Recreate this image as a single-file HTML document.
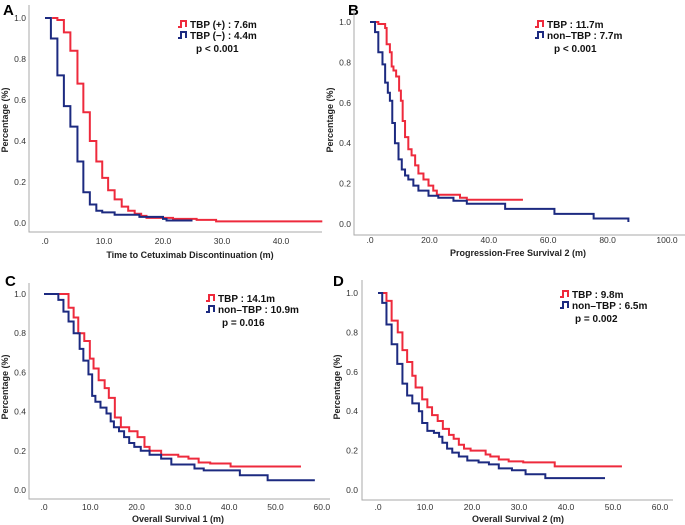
<!DOCTYPE html>
<html><head><meta charset="utf-8"><style>
body{margin:0;background:#fff;}
svg{display:block;font-family:"Liberation Sans",sans-serif;}
</style></head><body>
<svg id="fig" width="685" height="525" viewBox="0 0 685 525"></svg>
<script>
// Panel A data
const aRedTimes=[2.1,3.2,4.3,5.5,6.5,7.6,8.7,9.7,10.7,11.8,13,14.1,15.2,16.3,17.2,21.7,25.7,29];
const aRedSurv=[0.99,0.93,0.84,0.68,0.54,0.40,0.30,0.22,0.16,0.115,0.08,0.06,0.045,0.035,0.025,0.02,0.015,0.008];
const aRedStart=1.2, aRedEnd=47;
const aBlueTimes=[1.0,2.1,3.2,4.3,5.5,6.5,7.6,8.7,9.7,11.8,16,20,20.6];
const aBlueSurv=[0.90,0.72,0.57,0.47,0.30,0.15,0.09,0.06,0.052,0.04,0.03,0.02,0.012];
const aBlueStart=0, aBlueEnd=25;
// Panel B data
const bRedTimes=[2.8,5.1,5.6,6.7,7.3,7.9,8.8,9.8,10.4,11,11.8,12.9,14,15.2,16.3,18,19.7,21.3,22.5,30.3,32.6];
const bRedSurv=[0.99,0.97,0.89,0.85,0.78,0.76,0.73,0.66,0.61,0.51,0.43,0.37,0.34,0.29,0.25,0.22,0.19,0.165,0.145,0.13,0.12];
const bRedStart=0, bRedEnd=51.5;
const bBlueTimes=[1.7,2.8,4.2,5.1,6,6.7,7.5,8.4,9.6,10.7,11.8,12.9,14.6,16.3,19.7,23,28.1,32.6,45.5,62.1,75.3,87];
const bBlueSurv=[0.95,0.85,0.79,0.70,0.65,0.61,0.50,0.40,0.32,0.27,0.24,0.22,0.19,0.165,0.14,0.13,0.115,0.10,0.075,0.05,0.027,0.01];
const bBlueStart=0, bBlueEnd=87;
// Panel C data
const cRedTimes=[5.3,6.4,7.4,8.7,9.9,10.7,11.8,13.1,14,15.3,16.6,18.4,20.2,21.7,22.8,25.3,29,31.2,33.4,35.9,40.3];
const cRedSurv=[0.93,0.88,0.80,0.76,0.67,0.62,0.56,0.52,0.47,0.37,0.32,0.30,0.27,0.22,0.20,0.18,0.17,0.16,0.14,0.135,0.12];
const cRedStart=0, cRedEnd=55.5;
const cBlueTimes=[3.1,4.2,5.3,6.4,7.7,8.5,9.6,10.4,11.1,12.2,13.5,14.4,15.1,16.2,17.3,18.4,19.5,20.9,22.8,25.3,27.5,32.5,34.5,42.3,48.3];
const cBlueSurv=[0.97,0.91,0.86,0.80,0.72,0.66,0.59,0.48,0.45,0.42,0.39,0.35,0.32,0.30,0.27,0.24,0.22,0.20,0.18,0.16,0.13,0.11,0.10,0.075,0.05];
const cBlueStart=0, cBlueEnd=58.5;
// Panel D data
const dRedTimes=[1.8,2.9,4.2,5.2,6.2,7.3,8,9.4,10.5,11.5,12.7,13.8,15.1,16.1,17.2,18.3,19.7,22.9,23.9,25.7,27.8,30.9,37.6];
const dRedSurv=[0.96,0.86,0.80,0.71,0.65,0.58,0.52,0.46,0.42,0.38,0.35,0.31,0.28,0.26,0.23,0.21,0.20,0.18,0.17,0.155,0.145,0.14,0.12];
const dRedStart=0, dRedEnd=51.9;
const dBlueTimes=[0.9,1.8,2.9,4.1,5.2,6.2,7.3,8.7,9.4,10.5,11.9,13,13.7,14.7,15.8,17.2,19,21.4,23.6,25.7,28.5,31.4,35.6];
const dBlueSurv=[0.95,0.84,0.74,0.64,0.54,0.48,0.44,0.40,0.34,0.30,0.29,0.27,0.24,0.21,0.19,0.17,0.15,0.14,0.13,0.11,0.10,0.08,0.06];
const dBlueStart=0, dBlueEnd=48.3;
// Tick labels
const yTickVals=[0,0.2,0.4,0.6,0.8,1.0];
const yTickLabels=["0.0","0.2","0.4","0.6","0.8","1.0"];
const aXTicks=[0,10,20,30,40];
const bXTicks=[0,20,40,60,80,100];
const cdXTicks=[0,10,20,30,40,50,60];

const NS="http://www.w3.org/2000/svg";
const svg=document.getElementById('fig');
function mk(tag,attrs,parent){const e=document.createElementNS(NS,tag);for(const k in attrs)e.setAttribute(k,attrs[k]);(parent||svg).appendChild(e);return e;}
function fmt(v){return v===0?".0":v.toFixed(1);}

const panels=[
 {id:'a',letter:'A',lx:3,ly:15,x0:45,ppu:5.9,y1:18,y0:223,left:29,top:5,bottom:232,right:322,tickY:244,xt:aXTicks,ylabR:26,
  title:"Time to Cetuximab Discontinuation (m)",tx:190,ty:258,ytx:8,yty:120,
  series:[[aRedTimes,aRedSurv,aRedStart,aRedEnd,'#ee2a3c','red'],[aBlueTimes,aBlueSurv,aBlueStart,aBlueEnd,'#1c2a80','blue']],
  leg:[180,24,"TBP (+) : 7.6m","TBP (\u2212) : 4.4m","p < 0.001",196]},
 {id:'b',letter:'B',lx:348,ly:15,x0:370,ppu:2.97,y1:22,y0:224,left:354,top:10,bottom:235,right:685,tickY:243,xt:bXTicks,ylabR:351,
  title:"Progression-Free Survival 2 (m)",tx:518,ty:256,ytx:333,yty:120,
  series:[[bRedTimes,bRedSurv,bRedStart,bRedEnd,'#ee2a3c','red'],[bBlueTimes,bBlueSurv,bBlueStart,bBlueEnd,'#1c2a80','blue']],
  leg:[537,24,"TBP : 11.7m","non\u2013TBP : 7.7m","p < 0.001",554]},
 {id:'c',letter:'C',lx:5,ly:286,x0:44,ppu:4.63,y1:294,y0:490,left:29,top:283,bottom:499,right:330,tickY:510,xt:cdXTicks,ylabR:26,
  title:"Overall Survival 1 (m)",tx:178,ty:522,ytx:8,yty:387,
  series:[[cRedTimes,cRedSurv,cRedStart,cRedEnd,'#ee2a3c','red'],[cBlueTimes,cBlueSurv,cBlueStart,cBlueEnd,'#1c2a80','blue']],
  leg:[208,298,"TBP : 14.1m","non\u2013TBP : 10.9m","p = 0.016",222]},
 {id:'d',letter:'D',lx:333,ly:286,x0:378,ppu:4.7,y1:293,y0:490,left:362,top:280,bottom:500,right:673,tickY:510,xt:cdXTicks,ylabR:358,
  title:"Overall Survival 2 (m)",tx:518,ty:522,ytx:340,yty:387,
  series:[[dRedTimes,dRedSurv,dRedStart,dRedEnd,'#ee2a3c','red'],[dBlueTimes,dBlueSurv,dBlueStart,dBlueEnd,'#1c2a80','blue']],
  leg:[562,294,"TBP : 9.8m","non\u2013TBP : 6.5m","p = 0.002",575]}
];

panels.forEach(p=>{
  const g=mk('g',{});
  
  
  const X=t=>p.x0+t*p.ppu, Y=v=>p.y0-(p.y0-p.y1)*v;
  const L=mk('text',{x:p.lx,y:p.ly,'font-size':15,'font-weight':'bold',fill:'#000'},g);L.textContent=p.letter;
  
  
  const ax=mk('path',{d:`M${p.left},${p.top}V${p.bottom}H${p.right}`,stroke:'#aaa','stroke-width':1,fill:'none'},g);
  
  
  yTickVals.forEach((v,i)=>{const t=mk('text',{x:p.ylabR,y:Y(v)+3,'font-size':8.5,fill:'#333','text-anchor':'end'},g);t.textContent=yTickLabels[i];
    
    });
  p.xt.forEach(v=>{const t=mk('text',{x:X(v),y:p.tickY,'font-size':8.5,fill:'#333','text-anchor':'middle'},g);t.textContent=fmt(v);
    
    });
  const xt=mk('text',{x:p.tx,y:p.ty,'font-size':9,'font-weight':'bold',fill:'#222','text-anchor':'middle'},g);xt.textContent=p.title;
  
  
  const yt=mk('text',{x:p.ytx,y:p.yty,'font-size':9,'font-weight':'bold',fill:'#222','text-anchor':'middle',transform:`rotate(-90 ${p.ytx} ${p.yty})`},g);yt.textContent="Percentage (%)";
  
  
  p.series.forEach(s=>{
    const [ts,vs,st,en,col,nm]=s;
    let d=`M${X(st)},${Y(1)}`;
    ts.forEach((t,i)=>{d+=`H${X(t)}V${Y(vs[i])}`;});
    d+=`H${X(en)}`;
    const pa=mk('path',{d:d,stroke:col,'stroke-width':2,fill:'none'},g);
    
    
  });
  const [lx,ly,t1,t2,t3,px]=p.leg;
  [[t1,'#ee2a3c',ly],[t2,'#1c2a80',ly+11]].forEach(([txt,col,yy])=>{
    const ic=mk('path',{d:`M${lx-2},${yy+3}H${lx+1}V${yy-3}H${lx+6}V${yy+3}`,stroke:col,'stroke-width':2,fill:'none'},g);
    
    
    const tt=mk('text',{x:lx+10,y:yy+4,'font-size':10,'font-weight':'bold',fill:'#111'},g);tt.textContent=txt;
    
    
  });
  const pv=mk('text',{x:px,y:ly+28,'font-size':10,'font-weight':'bold',fill:'#111'},g);pv.textContent=t3;
  
  
});
</script>
</body></html>
